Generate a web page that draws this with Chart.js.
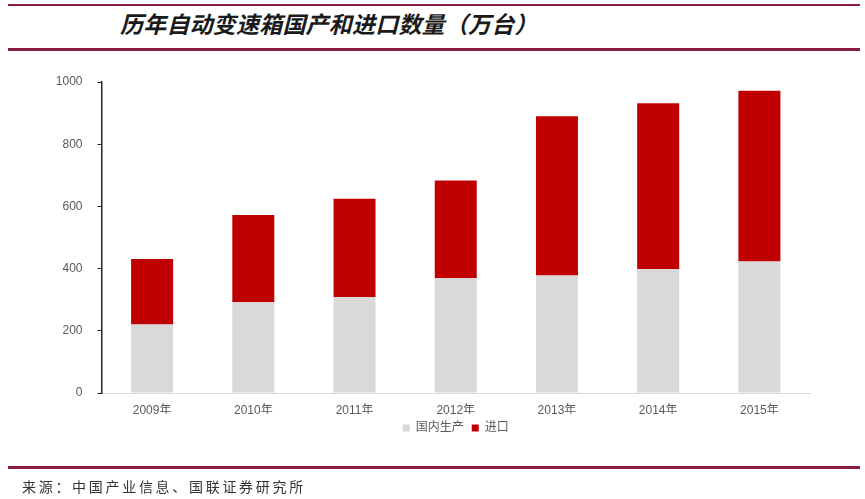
<!DOCTYPE html>
<html>
<head>
<meta charset="utf-8">
<script src="https://cdn.jsdelivr.net/npm/chart.js@4"></script>
<style>
  html, body { margin: 0; padding: 0; background: #ffffff; }
  #wrap { position: relative; width: 865px; height: 499px; overflow: hidden; background: #fff; }
  #chart { position: absolute; left: 0; top: 0; }
  .rule { position: absolute; left: 8px; width: 852px; background: #8b1c3c; }
  #title { position: absolute; left: 120px; top: 6px; font-family: "Noto Sans CJK SC", sans-serif;
           font-size: 23px; font-weight: 700; font-style: italic; color: #1a1a1a; white-space: nowrap; letter-spacing: 0.2px; }
  #source { position: absolute; left: 22px; top: 476px; font-family: "Noto Sans CJK SC", sans-serif;
            font-size: 14px; color: #333; white-space: nowrap; letter-spacing: 2.7px; }
</style>
</head>
<body>
<div id="wrap">
  <div class="rule" style="top:4px;height:2px;"></div>
  <div id="title">历年自动变速箱国产和进口数量（万台）</div>
  <div class="rule" style="top:48px;height:3px;"></div>
  <canvas id="chart" width="865" height="499"></canvas>
  <div class="rule" style="top:466px;height:3px;"></div>
  <div id="source">来源：中国产业信息、国联证券研究所</div>
</div>
<script>
const categories = ["2009年", "2010年", "2011年", "2012年", "2013年", "2014年", "2015年"];
const domestic = [220, 292, 309, 370, 378, 399, 423];
const imports = [211, 280, 316, 313, 512, 533, 549];
const yTicks = [0, 200, 400, 600, 800, 1000];
const seriesNames = ["国内生产", "进口"];

const FONT = 'Liberation Sans, "Noto Sans CJK SC", sans-serif';

new Chart(document.getElementById("chart"), {
  type: "bar",
  data: {
    labels: categories,
    datasets: [
      { label: seriesNames[0], data: domestic, backgroundColor: "#d9d9d9", borderWidth: 0,
        barPercentage: 0.415, categoryPercentage: 1.0 },
      { label: seriesNames[1], data: imports, backgroundColor: "#c00000", borderWidth: 0,
        barPercentage: 0.415, categoryPercentage: 1.0 }
    ]
  },
  options: {
    responsive: false,
    animation: false,
    devicePixelRatio: 1,
    layout: { padding: { left: 0, right: 55, top: 82, bottom: 55 } },
    plugins: {
      legend: {
        display: true,
        position: "bottom",
        fullSize: false,
        labels: {
          boxWidth: 7, boxHeight: 7, padding: 8,
          color: "#595959",
          font: { family: FONT, size: 12 }
        }
      },
      tooltip: { enabled: false },
      title: { display: false }
    },
    scales: {
      x: {
        stacked: true,
        afterFit: (scale) => { scale.height = 21; },
        grid: { display: false, drawTicks: false },
        border: { display: true, color: "#d9d9d9", width: 1 },
        ticks: { color: "#595959", font: { family: FONT, size: 12 }, padding: 10, maxRotation: 0 }
      },
      y: {
        stacked: true,
        min: 0, max: 1000,
        afterBuildTicks: (scale) => { scale.ticks = yTicks.map(v => ({ value: v })); },
        afterFit: (scale) => { scale.width = 101.5; },
        grid: { drawOnChartArea: false, drawTicks: true, tickLength: 4, color: "#262626", lineWidth: 1 },
        border: { display: true, color: "#262626", width: 1.5 },
        ticks: { color: "#595959", font: { family: FONT, size: 12 }, padding: 15,
                 callback: (v) => String(v) }
      }
    }
  }
});
</script>
</body>
</html>
